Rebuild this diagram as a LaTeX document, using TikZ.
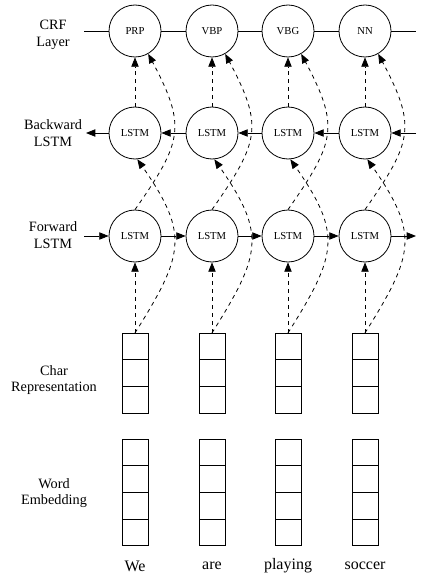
\documentclass[tikz,border=0pt]{standalone}
\usepackage{fontspec}
\setmainfont{Liberation Serif}
\usetikzlibrary{arrows.meta}
\usetikzlibrary{positioning}

\tikzset{
  unit/.style={draw, circle, minimum size=39pt, inner sep=0pt,
    font=\fontsize{8}{9}\selectfont},
  cell/.style={draw, minimum width=19.5pt, minimum height=20pt,
    inner sep=0pt, outer sep=0pt},
  layer/.style={align=center, font=\fontsize{10.7}{12.5}\selectfont},
  word/.style={font=\fontsize{12}{14}\selectfont},
  flow/.style={-{Triangle[length=7pt,width=5.5pt]}},
  feed/.style={flow, dashed},
}

\begin{document}
\begin{tikzpicture}[x=0.75pt, y=-0.75pt, line width=0.6pt]
          \useasboundingbox (0,0) rectangle (432,588);
          % layer names
          \node [layer] (crflbl) at (53,35) {CRF\\Layer};
          \node [layer] (bwlbl) at (53,133) {Backward\\LSTM};
          \node [layer] (fwlbl) at (53,235) {Forward\\LSTM};
          \node [layer] (chlbl) at (54,380) {Char\\Representation};
          \node [layer] (welbl) at (54,493) {Word\\Embedding};
          % columns
          \foreach \i/\x/\tag/\word in {
            1/135/PRP/We, 2/212/VBP/are, 3/288/VBG/playing, 4/365/NN/soccer
          }{
            \node [unit] (crf\i) at (\x,31) {\tag};
            \node [unit] (bw\i) at (\x,133) {LSTM};
            \node [unit] (fw\i) at (\x,236) {LSTM};
            \node [cell] (ch\i-1) at (\x,346.3) {};
            \node [cell, below=0pt of ch\i-1] (ch\i-2) {};
            \node [cell, below=0pt of ch\i-2] (ch\i-3) {};
            \node [cell] (we\i-1) at (\x,452.3) {};
            \node [cell, below=0pt of we\i-1] (we\i-2) {};
            \node [cell, below=0pt of we\i-2] (we\i-3) {};
            \node [cell, below=0pt of we\i-3] (we\i-4) {};
            \node [word] (w\i) at (\x,566) {\word};
          }
          % chain ends
          \coordinate (crfL) at (84,31);
          \coordinate (crfR) at (416,31);
          \coordinate (bwL) at (86,133);
          \coordinate (bwR) at (416,133);
          \coordinate (fwL) at (84,236);
          \coordinate (fwR) at (416,236);
          \draw (crfL) -- (crf1) -- (crf2) -- (crf3) -- (crf4) -- (crfR);
          \draw [flow] (fwL) -- (fw1);
          \draw [flow] (fw4) -- (fwR);
          \draw [flow] (bwR) -- (bw4);
          \draw [flow] (bw1) -- (bwL);
          \foreach \i/\j in {1/2, 2/3, 3/4}{
            \draw [flow] (fw\i) -- (fw\j);
            \draw [flow] (bw\j) -- (bw\i);
          }
          % dashed feeds
          \foreach \i in {1,...,4}{
            \draw [feed] (ch\i-1.north) -- (fw\i);
            \draw [feed] (ch\i-1.north) to [out=58, in=-55, looseness=1.35] (bw\i.-85);
            \draw [feed] (bw\i) -- (crf\i);
            \draw [feed] (fw\i.north) to [out=55, in=-62, looseness=1.35] (crf\i.-60);
          }
        \end{tikzpicture}
\end{document}
